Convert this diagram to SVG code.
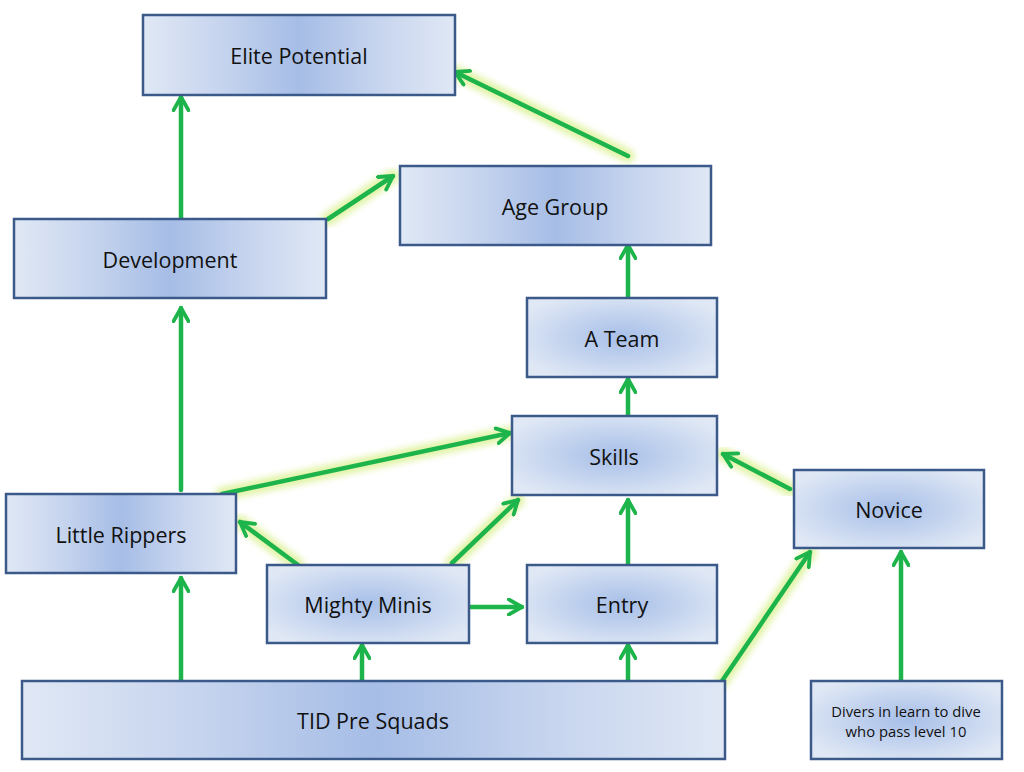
<svg xmlns="http://www.w3.org/2000/svg" width="1024" height="772" viewBox="0 0 1024 772">
<style>
.box{stroke:#3b5a8a;stroke-width:2.5}
.lbl{font-family:"Open Sans","Liberation Sans",sans-serif;font-size:21.5px;fill:#111;text-anchor:middle;dominant-baseline:central}
.sm{font-size:14.8px}
.glow{stroke:#d8f08a;stroke-width:14;stroke-linecap:round;fill:none;opacity:0.75;filter:url(#blur)}
.ln{stroke:#1db44b;stroke-width:4.5;fill:none;stroke-linecap:round;stroke-linejoin:round}
</style>
<defs>
<linearGradient id="g" x1="0" y1="0" x2="1" y2="0">
<stop offset="0" stop-color="#e0e8f5"/>
<stop offset="0.25" stop-color="#c6d4ee"/>
<stop offset="0.5" stop-color="#a6bde6"/>
<stop offset="0.75" stop-color="#c6d4ee"/>
<stop offset="1" stop-color="#e0e8f5"/>
</linearGradient>
<radialGradient id="gr" cx="50%" cy="50%" r="60%">
<stop offset="0" stop-color="#a7bfe8"/>
<stop offset="1" stop-color="#e0e8f5"/>
</radialGradient>
<filter id="blur" x="-20%" y="-20%" width="140%" height="140%"><feGaussianBlur stdDeviation="3"/></filter>
<marker id="ah" viewBox="0 0 10 10" refX="8" refY="5" markerWidth="4.2" markerHeight="4.2" orient="auto" markerUnits="strokeWidth">
<path d="M1,1 L8,5 L1,9" fill="none" stroke="#1db44b" stroke-width="2" stroke-linecap="round" stroke-linejoin="round"/>
</marker>
</defs>
<rect width="1024" height="772" fill="#fff"/>
<g id="connectors">
<g id="glows">
<path class="glow" d="M181,219 V97"/>
<path class="glow" d="M628,156 L455,72"/>
<path class="glow" d="M328,219 L393,176"/>
<path class="glow" d="M628,298 V245"/>
<path class="glow" d="M628,416 V379"/>
<path class="glow" d="M181,490 V308"/>
<path class="glow" d="M222,494 L510,433"/>
<path class="glow" d="M790,489 L723,454"/>
<path class="glow" d="M298,565 L240,522"/>
<path class="glow" d="M452,563 L518,500"/>
<path class="glow" d="M469,607 L522,607"/>
<path class="glow" d="M628,565 V500"/>
<path class="glow" d="M181,681 V578"/>
<path class="glow" d="M362,681 V645"/>
<path class="glow" d="M628,681 V645"/>
<path class="glow" d="M722,681 L810,552"/>
<path class="glow" d="M901,681 V552"/>
</g>
<path class="ln" marker-end="url(#ah)" d="M181,219 V97"/>
<path class="ln" marker-end="url(#ah)" d="M628,156 L455,72"/>
<path class="ln" marker-end="url(#ah)" d="M328,219 L393,176"/>
<path class="ln" marker-end="url(#ah)" d="M628,298 V245"/>
<path class="ln" marker-end="url(#ah)" d="M628,416 V379"/>
<path class="ln" marker-end="url(#ah)" d="M181,490 V308"/>
<path class="ln" marker-end="url(#ah)" d="M222,494 L510,433"/>
<path class="ln" marker-end="url(#ah)" d="M790,489 L723,454"/>
<path class="ln" marker-end="url(#ah)" d="M298,565 L240,522"/>
<path class="ln" marker-end="url(#ah)" d="M452,563 L518,500"/>
<path class="ln" marker-end="url(#ah)" d="M469,607 L522,607"/>
<path class="ln" marker-end="url(#ah)" d="M628,565 V500"/>
<path class="ln" marker-end="url(#ah)" d="M181,681 V578"/>
<path class="ln" marker-end="url(#ah)" d="M362,681 V645"/>
<path class="ln" marker-end="url(#ah)" d="M628,681 V645"/>
<path class="ln" marker-end="url(#ah)" d="M722,681 L810,552"/>
<path class="ln" marker-end="url(#ah)" d="M901,681 V552"/>
</g>
<g id="elite"><rect class="box" x="143" y="15" width="312" height="80" fill="url(#g)"/><text class="lbl" x="299" y="55">Elite Potential</text></g>
<g id="agegroup"><rect class="box" x="400" y="166" width="311" height="79" fill="url(#g)"/><text class="lbl" x="555" y="206">Age Group</text></g>
<g id="development"><rect class="box" x="14" y="219" width="312" height="79" fill="url(#g)"/><text class="lbl" x="170" y="259">Development</text></g>
<g id="ateam"><rect class="box" x="527" y="298" width="190" height="79" fill="url(#gr)"/><text class="lbl" x="622" y="338">A Team</text></g>
<g id="skills"><rect class="box" x="512" y="416" width="205" height="79" fill="url(#gr)"/><text class="lbl" x="614" y="456">Skills</text></g>
<g id="novice"><rect class="box" x="794" y="470" width="190" height="78" fill="url(#gr)"/><text class="lbl" x="889" y="509">Novice</text></g>
<g id="littlerippers"><rect class="box" x="6" y="494" width="230" height="79" fill="url(#g)"/><text class="lbl" x="121" y="534">Little Rippers</text></g>
<g id="mightyminis"><rect class="box" x="267" y="565" width="202" height="78" fill="url(#gr)"/><text class="lbl" x="368" y="604">Mighty Minis</text></g>
<g id="entry"><rect class="box" x="527" y="565" width="190" height="78" fill="url(#gr)"/><text class="lbl" x="622" y="604">Entry</text></g>
<g id="tid"><rect class="box" x="22" y="681" width="703" height="78" fill="url(#g)"/><text class="lbl" x="373" y="720">TID Pre Squads</text></g>
<g id="divers"><rect class="box" x="811" y="681" width="191" height="78" fill="url(#gr)"/><text class="lbl sm" x="906" y="711">Divers in learn to dive</text><text class="lbl sm" x="906" y="731">who pass level 10</text></g>
</svg>
